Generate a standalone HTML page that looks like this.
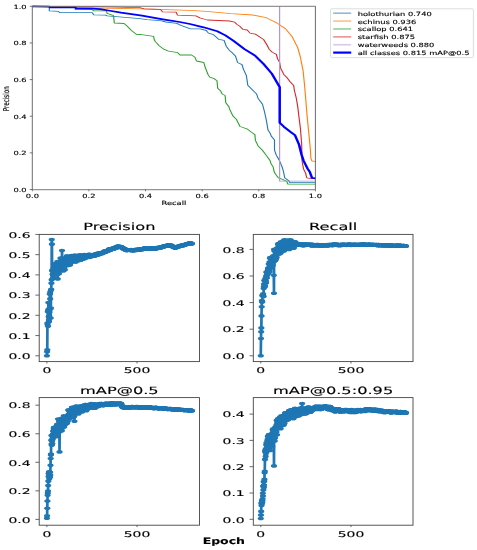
<!DOCTYPE html>
<html><head><meta charset="utf-8"><title>PR curve and training metrics</title>
<style>
html,body{margin:0;padding:0;background:#fff;}
body{width:477px;height:550px;overflow:hidden;}
svg{display:block;} text{text-rendering:geometricPrecision;}
</style></head>
<body>
<svg width="477" height="550" viewBox="0 0 477 550">
<defs><marker id="dot" markerUnits="userSpaceOnUse" markerWidth="40" markerHeight="40" refX="20" refY="20" viewBox="0 0 40 40" overflow="visible"><ellipse cx="20" cy="20" rx="6.46" ry="7.06" fill="#1f77b4"/></marker></defs>
<rect width="477" height="550" fill="#fff"/>
<g fill="none" stroke-linejoin="round" stroke-linecap="butt" transform="scale(1,0.7)">
<polyline points="32.30,9.00 49.30,9.57 49.30,15.57 58.50,16.29 59.40,18.00 92.10,18.00 93.80,21.14 105.50,21.57 107.20,22.71 140.00,26.57 146.80,28.14 160.40,29.57 165.90,31.43 176.80,33.43 180.90,36.29 190.40,41.14 200.00,41.29 206.30,43.57 208.40,47.29 213.60,49.57 218.90,56.29 224.10,57.71 226.20,66.00 229.40,72.00 231.70,74.57 235.40,79.86 237.60,89.29 242.00,92.43 243.40,98.71 246.40,108.14 247.80,121.71 250.80,126.00 256.60,134.29 258.10,140.57 262.50,149.00 264.50,159.71 266.30,171.43 268.00,185.71 270.10,190.14 271.40,194.71 274.50,200.00 274.50,214.29 276.30,221.71 279.40,229.29 282.10,238.29 283.60,245.71 284.70,254.00 288.90,258.43 289.90,260.71 315.40,261.00" stroke="#1f77b4" stroke-width="1.15"/>
<polyline points="32.30,9.00 100.00,11.43 142.00,12.57 190.00,14.86 206.40,16.29 230.90,19.43 252.70,21.43 266.30,25.29 277.20,33.14 285.40,40.86 292.20,52.57 297.70,68.14 300.40,81.71 303.10,101.29 304.50,120.71 305.80,142.86 307.20,167.57 308.60,187.00 309.90,206.43 310.40,214.29 310.90,226.29 311.90,230.00 315.40,230.43" stroke="#ff7f0e" stroke-width="1.15"/>
<polyline points="32.30,9.00 75.30,9.57 75.30,13.86 92.10,13.86 93.80,15.57 106.30,15.57 107.20,19.14 113.60,22.43 114.30,32.86 124.10,33.57 127.30,37.43 131.40,43.43 136.70,49.43 140.00,49.00 153.60,51.86 154.30,57.14 155.60,59.86 159.20,65.43 163.80,70.29 168.50,73.00 177.70,75.29 180.00,78.57 191.50,78.57 195.00,81.86 196.50,87.14 203.80,89.29 205.30,96.57 208.20,107.00 209.70,110.14 214.10,112.29 217.00,115.43 217.70,126.00 220.70,130.14 222.20,134.29 225.10,136.43 225.80,146.86 228.80,152.14 229.60,156.00 233.00,165.86 236.50,170.86 240.00,180.71 246.90,184.00 251.50,189.00 254.90,192.29 255.40,200.57 258.10,208.43 262.20,214.29 266.30,222.00 270.00,229.29 271.00,233.71 273.10,238.29 274.20,245.71 276.30,250.29 278.40,254.00 282.60,256.29 286.80,259.14 287.80,263.00 315.40,263.00" stroke="#2ca02c" stroke-width="1.15"/>
<polyline points="32.30,9.14 100.00,9.43 127.30,10.43 140.00,11.00 144.10,12.57 160.40,13.43 162.50,16.86 176.10,17.29 177.50,21.71 195.90,22.71 199.90,25.57 207.30,28.57 229.40,30.00 234.60,31.57 236.70,34.57 239.80,37.57 243.00,42.00 247.20,42.86 250.00,47.29 255.40,48.71 263.60,56.43 267.00,64.29 269.10,70.29 272.30,74.71 276.40,77.71 277.50,83.71 279.60,89.00 280.60,97.29 283.80,106.29 286.90,110.71 290.10,116.71 293.70,122.00 294.30,128.57 296.30,140.29 297.70,152.00 299.00,167.57 300.40,183.14 301.70,206.43 302.00,229.29 303.50,241.29 305.60,247.29 306.70,254.00 309.80,254.71 315.40,254.71" stroke="#d62728" stroke-width="1.15"/>
<polyline points="279.60,9.00 279.60,258.86 315.40,258.86" stroke="#b295d6" stroke-width="1.2"/>
<polyline points="32.30,9.00 49.30,9.29 50.10,10.71 75.30,10.71 76.10,12.00 92.10,12.43 100.00,13.14 108.40,15.00 121.00,18.00 142.00,22.43 162.90,27.57 179.70,31.43 190.00,34.29 203.60,39.00 217.30,44.71 225.40,50.57 233.60,58.43 244.50,70.14 255.40,79.86 263.60,91.43 271.80,105.14 279.70,124.57 279.70,175.29 284.00,181.14 290.80,188.86 294.90,192.86 299.00,206.43 300.40,214.29 301.40,220.29 303.50,229.29 305.60,235.29 307.70,241.29 309.80,245.71 311.40,251.71 311.90,254.00 315.40,254.71" stroke="#0000ff" stroke-width="2.5"/>
</g>
<path d="M32.3,6.3V189.5M315.4,6.3V189.5" fill="none" stroke="#505050" stroke-width="0.85"/>
<path d="M31.9,6.3H315.79999999999995" fill="none" stroke="#7a7a7a" stroke-width="1.0"/>
<path d="M31.9,189.7H315.79999999999995" fill="none" stroke="#959595" stroke-width="1.2"/>
<path d="M29.70,189.50H32.3M32.30,189.5V191.30M29.70,152.86H32.3M88.92,189.5V191.30M29.70,116.22H32.3M145.54,189.5V191.30M29.70,79.58H32.3M202.16,189.5V191.30M29.70,42.94H32.3M258.78,189.5V191.30M29.70,6.30H32.3M315.40,189.5V191.30" stroke="#444" stroke-width="0.7" fill="none"/>
<g font-family="'DejaVu Sans','Liberation Sans',sans-serif">
<text transform="translate(26.60,191.90) scale(1.460,1)" font-size="5.7" text-anchor="end" fill="#000" stroke="#000" stroke-width="0.12">0.0</text>
<text transform="translate(32.30,197.60) scale(1.460,1)" font-size="5.7" text-anchor="middle" fill="#000" stroke="#000" stroke-width="0.12">0.0</text>
<text transform="translate(26.60,155.26) scale(1.460,1)" font-size="5.7" text-anchor="end" fill="#000" stroke="#000" stroke-width="0.12">0.2</text>
<text transform="translate(88.92,197.60) scale(1.460,1)" font-size="5.7" text-anchor="middle" fill="#000" stroke="#000" stroke-width="0.12">0.2</text>
<text transform="translate(26.60,118.62) scale(1.460,1)" font-size="5.7" text-anchor="end" fill="#000" stroke="#000" stroke-width="0.12">0.4</text>
<text transform="translate(145.54,197.60) scale(1.460,1)" font-size="5.7" text-anchor="middle" fill="#000" stroke="#000" stroke-width="0.12">0.4</text>
<text transform="translate(26.60,81.98) scale(1.460,1)" font-size="5.7" text-anchor="end" fill="#000" stroke="#000" stroke-width="0.12">0.6</text>
<text transform="translate(202.16,197.60) scale(1.460,1)" font-size="5.7" text-anchor="middle" fill="#000" stroke="#000" stroke-width="0.12">0.6</text>
<text transform="translate(26.60,45.34) scale(1.460,1)" font-size="5.7" text-anchor="end" fill="#000" stroke="#000" stroke-width="0.12">0.8</text>
<text transform="translate(258.78,197.60) scale(1.460,1)" font-size="5.7" text-anchor="middle" fill="#000" stroke="#000" stroke-width="0.12">0.8</text>
<text transform="translate(26.60,8.70) scale(1.460,1)" font-size="5.7" text-anchor="end" fill="#000" stroke="#000" stroke-width="0.12">1.0</text>
<text transform="translate(315.40,197.60) scale(1.460,1)" font-size="5.7" text-anchor="middle" fill="#000" stroke="#000" stroke-width="0.12">1.0</text>
<text transform="translate(173.90,204.60) scale(1.460,1)" font-size="5.7" text-anchor="middle" fill="#000" stroke="#000" stroke-width="0.12">Recall</text>
<text transform="translate(9.40,98.70) scale(1.460,1) rotate(-90)" font-size="5.6" text-anchor="middle" fill="#000" stroke="#000" stroke-width="0.12">Precision</text>
</g>
<rect x="330.5" y="8.8" width="142.90" height="48.80" rx="1.2" fill="#fff" stroke="#d0d0d0" stroke-width="0.7"/>
<g font-family="'DejaVu Sans','Liberation Sans',sans-serif">
<path d="M333.2,13.20H351.2" stroke="#1f77b4" stroke-width="1.6" fill="none" stroke-opacity="0.5"/>
<text transform="translate(357.70,15.70) scale(1.460,1)" font-size="5.7" text-anchor="start" fill="#000" stroke="#000" stroke-width="0.12">holothurian 0.740</text>
<path d="M333.2,21.08H351.2" stroke="#ff7f0e" stroke-width="1.6" fill="none" stroke-opacity="0.5"/>
<text transform="translate(357.70,23.58) scale(1.460,1)" font-size="5.7" text-anchor="start" fill="#000" stroke="#000" stroke-width="0.12">echinus 0.936</text>
<path d="M333.2,28.96H351.2" stroke="#2ca02c" stroke-width="1.6" fill="none" stroke-opacity="0.5"/>
<text transform="translate(357.70,31.46) scale(1.460,1)" font-size="5.7" text-anchor="start" fill="#000" stroke="#000" stroke-width="0.12">scallop 0.641</text>
<path d="M333.2,36.84H351.2" stroke="#d62728" stroke-width="1.6" fill="none" stroke-opacity="0.5"/>
<text transform="translate(357.70,39.34) scale(1.460,1)" font-size="5.7" text-anchor="start" fill="#000" stroke="#000" stroke-width="0.12">starfish 0.875</text>
<path d="M333.2,44.72H351.2" stroke="#b295d6" stroke-width="1.6" fill="none" stroke-opacity="0.5"/>
<text transform="translate(357.70,47.22) scale(1.460,1)" font-size="5.7" text-anchor="start" fill="#000" stroke="#000" stroke-width="0.12">waterweeds 0.880</text>
<path d="M333.2,52.60H351.2" stroke="#0000ff" stroke-width="2.2" fill="none"/>
<text transform="translate(357.70,55.10) scale(1.460,1)" font-size="5.7" text-anchor="start" fill="#000" stroke="#000" stroke-width="0.12">all classes 0.815 mAP@0.5</text>
</g>
<g transform="scale(0.48,0.255)">
<polyline points="97.7,1395.3 98.1,1379.4 98.5,1371.5 98.8,1267.2 99.2,1273.4 99.6,1222.5 100.0,1279.4 100.3,1216.9 100.7,1186.2 101.1,1213.2 101.5,1241.8 101.8,1254.8 102.2,1261.4 102.6,1240.5 103.0,1223.8 103.3,1210.1 103.7,1152.8 104.1,1152.9 104.5,1172.1 104.8,1144.8 105.2,1211.6 105.6,1247.4 106.0,1208.3 106.3,1137.0 106.7,1134.6 107.1,1110.4 107.5,1097.0 107.8,939.1 108.2,957.4 108.6,1061.7 109.0,1059.4 109.3,1075.3 109.7,1092.9 110.1,1092.2 110.5,1061.9 110.8,1078.0 111.2,1074.4 111.6,1090.6 112.0,1053.7 112.3,1076.3 112.7,1078.5 113.1,1044.1 113.5,1051.3 113.9,1034.8 114.2,1039.8 114.6,1035.7 115.0,1070.7 115.4,1059.0 115.7,1056.0 116.1,1034.1 116.5,1053.8 116.9,1048.1 117.2,1075.8 117.6,1068.2 118.0,1068.5 118.4,1078.0 118.7,1044.5 119.1,1055.2 119.5,1026.0 119.9,1035.7 120.2,1093.8 120.6,1037.4 121.0,1034.6 121.4,1061.9 121.7,1056.7 122.1,1065.2 122.5,1059.4 122.9,1073.4 123.2,1031.4 123.6,1055.1 124.0,1039.5 124.4,1053.0 124.7,1027.2 125.1,1028.0 125.5,1056.5 125.9,1029.3 126.2,1012.9 126.6,1012.3 127.0,1023.9 127.4,1052.3 127.7,1060.9 128.1,1025.0 128.5,1030.3 128.9,1051.6 129.2,982.8 129.6,1023.8 130.0,1027.7 130.4,1039.0 130.7,1041.4 131.1,1050.9 131.5,1062.8 131.9,1026.6 132.2,1032.2 132.6,1030.0 133.0,1040.4 133.4,1022.2 133.7,1051.9 134.1,1045.6 134.5,1058.1 134.9,1057.6 135.2,1018.6 135.6,1017.3 136.0,1028.0 136.4,1027.3 136.8,1010.0 137.1,1028.5 137.5,1023.9 137.9,1017.6 138.3,1030.3 138.6,1027.6 139.0,1015.0 139.4,1003.5 139.8,1033.0 140.1,1009.6 140.5,1041.3 140.9,1020.8 141.3,1010.1 141.6,1034.7 142.0,1032.2 142.4,1014.3 142.8,1040.5 143.1,1025.3 143.5,1012.4 143.9,1018.6 144.3,1012.4 144.6,1029.5 145.0,1037.2 145.4,1033.5 145.8,1038.9 146.1,1034.4 146.5,1009.9 146.9,1014.1 147.3,1024.1 147.6,1030.3 148.0,1008.3 148.4,1017.5 148.8,1002.3 149.1,1012.3 149.5,1015.9 149.9,1004.6 150.3,1005.3 150.6,1010.7 151.0,1017.7 151.4,1006.0 151.8,1015.9 152.1,1003.9 152.5,1025.1 152.9,1022.3 153.3,1018.4 153.6,1004.1 154.0,1018.6 154.4,1008.3 154.8,1007.9 155.1,1006.5 155.5,1008.2 155.9,1000.6 156.3,1013.1 156.6,1016.5 157.0,1022.6 157.4,1027.5 157.8,1026.4 158.2,1008.5 158.5,1003.2 158.9,1018.0 159.3,1012.3 159.7,1012.7 160.0,1010.2 160.4,1007.8 160.8,1014.3 161.2,1002.8 161.5,1008.8 161.9,1007.7 162.3,1007.0 162.7,1016.1 163.0,1022.1 163.4,1017.1 163.8,1007.9 164.2,1003.2 164.5,1003.0 164.9,1015.1 165.3,1004.0 165.7,1001.8 166.0,999.5 166.4,1005.2 166.8,1000.0 167.2,1014.4 167.5,1019.8 167.9,1019.6 168.3,1019.1 168.7,1017.7 169.0,1018.1 169.4,1011.3 169.8,1018.0 170.2,1010.7 170.5,1015.2 170.9,1007.9 171.3,1016.4 171.7,1014.6 172.0,1003.1 172.4,1005.3 172.8,1001.5 173.2,1002.5 173.5,1003.6 173.9,1010.9 174.3,1007.4 174.7,1014.6 175.0,1005.1 175.4,998.9 175.8,998.3 176.2,1010.1 176.5,1010.3 176.9,1010.6 177.3,1013.7 177.7,1007.2 178.0,1002.0 178.4,1007.0 178.8,1000.9 179.2,999.5 179.5,1008.2 179.9,1002.7 180.3,998.9 180.7,1006.7 181.1,1004.6 181.4,1002.8 181.8,1002.4 182.2,1008.9 182.6,1004.1 182.9,1002.5 183.3,999.4 183.7,998.4 184.1,1003.8 184.4,1001.0 184.8,998.2 185.2,997.1 185.6,1004.6 185.9,1009.2 186.3,1003.7 186.7,1006.5 187.1,1003.5 187.4,998.0 187.8,1002.0 188.2,1004.9 188.6,1003.7 188.9,1001.0 189.3,1005.8 189.7,1004.7 190.1,1006.7 190.4,1001.8 190.8,998.1 191.2,1001.2 191.6,1002.4 191.9,1001.1 192.3,1003.8 192.7,1004.4 193.1,1003.7 193.4,1002.1 193.8,1005.0 194.2,999.6 194.6,999.1 194.9,1001.4 195.3,1004.3 195.7,999.0 196.1,1002.6 196.4,1003.9 196.8,1004.1 197.2,1003.9 197.6,997.6 197.9,1000.3 198.3,1000.9 198.7,996.5 199.1,996.6 199.4,1000.1 199.8,999.4 200.2,995.3 200.6,997.8 200.9,995.9 201.3,1000.0 201.7,996.6 202.1,994.8 202.4,993.6 202.8,994.2 203.2,996.7 203.6,999.9 204.0,997.7 204.3,995.0 204.7,997.9 205.1,998.4 205.5,996.6 205.8,994.4 206.2,992.4 206.6,996.8 207.0,998.0 207.3,994.3 207.7,993.8 208.1,993.1 208.5,991.4 208.8,991.3 209.2,991.2 209.6,991.3 210.0,993.7 210.3,993.1 210.7,995.4 211.1,992.9 211.5,991.7 211.8,991.2 212.2,992.4 212.6,993.1 213.0,992.9 213.3,994.9 213.7,990.7 214.1,990.7 214.5,991.3 214.8,990.5 215.2,988.9 215.6,990.1 216.0,987.7 216.3,986.1 216.7,988.3 217.1,990.4 217.5,987.5 217.8,984.8 218.2,988.3 218.6,986.3 219.0,984.7 219.3,983.5 219.7,987.1 220.1,988.6 220.5,983.9 220.8,986.8 221.2,987.4 221.6,985.2 222.0,984.8 222.3,982.7 222.7,984.9 223.1,981.5 223.5,983.8 223.8,981.5 224.2,984.3 224.6,982.9 225.0,984.6 225.4,983.5 225.7,982.9 226.1,980.2 226.5,980.4 226.9,982.5 227.2,977.9 227.6,976.5 228.0,976.0 228.4,978.7 228.7,978.9 229.1,979.8 229.5,980.6 229.9,980.6 230.2,978.9 230.6,979.9 231.0,979.9 231.4,976.0 231.7,976.4 232.1,978.1 232.5,976.0 232.9,977.3 233.2,976.2 233.6,977.1 234.0,976.0 234.4,974.8 234.7,974.8 235.1,975.4 235.5,973.4 235.9,972.0 236.2,975.1 236.6,976.5 237.0,977.0 237.4,972.4 237.7,970.5 238.1,973.5 238.5,970.5 238.9,973.3 239.2,972.6 239.6,972.2 240.0,969.6 240.4,973.2 240.7,972.9 241.1,971.1 241.5,973.1 241.9,972.8 242.2,971.3 242.6,968.3 243.0,967.6 243.4,966.8 243.7,966.7 244.1,966.7 244.5,965.9 244.9,966.2 245.2,965.9 245.6,967.9 246.0,969.3 246.4,966.6 246.7,968.4 247.1,965.5 247.5,966.1 247.9,967.9 248.3,965.6 248.6,968.8 249.0,968.4 249.4,970.5 249.8,967.0 250.1,967.7 250.5,966.9 250.9,969.4 251.3,967.8 251.6,967.8 252.0,968.3 252.4,967.0 252.8,969.3 253.1,970.5 253.5,969.8 253.9,969.0 254.3,971.5 254.6,971.0 255.0,973.4 255.4,972.8 255.8,971.6 256.1,975.0 256.5,973.2 256.9,976.3 257.3,972.9 257.6,974.3 258.0,975.4 258.4,974.4 258.8,975.3 259.1,974.8 259.5,978.1 259.9,977.2 260.3,977.1 260.6,975.3 261.0,979.4 261.4,979.1 261.8,978.3 262.1,978.6 262.5,981.4 262.9,980.1 263.3,981.6 263.6,982.6 264.0,979.8 264.4,982.3 264.8,981.8 265.1,980.2 265.5,979.7 265.9,980.3 266.3,979.3 266.6,980.6 267.0,980.3 267.4,979.3 267.8,979.5 268.1,979.8 268.5,981.1 268.9,980.9 269.3,981.6 269.6,980.1 270.0,981.3 270.4,981.4 270.8,980.0 271.2,980.7 271.5,981.8 271.9,979.8 272.3,981.2 272.7,979.5 273.0,979.1 273.4,980.6 273.8,979.9 274.2,982.9 274.5,982.4 274.9,979.9 275.3,980.3 275.7,980.5 276.0,980.1 276.4,979.9 276.8,980.3 277.2,981.2 277.5,982.7 277.9,982.8 278.3,982.8 278.7,982.2 279.0,979.2 279.4,981.1 279.8,981.4 280.2,981.9 280.5,981.0 280.9,978.8 281.3,978.3 281.7,980.3 282.0,981.6 282.4,979.1 282.8,979.9 283.2,979.3 283.5,981.9 283.9,979.1 284.3,980.5 284.7,980.2 285.0,981.4 285.4,980.8 285.8,978.5 286.2,977.6 286.5,978.8 286.9,977.9 287.3,978.9 287.7,979.6 288.0,979.0 288.4,980.4 288.8,980.3 289.2,978.4 289.5,977.3 289.9,980.1 290.3,978.0 290.7,976.7 291.0,977.9 291.4,980.0 291.8,978.0 292.2,979.1 292.5,977.7 292.9,978.2 293.3,977.2 293.7,978.4 294.1,977.8 294.4,977.3 294.8,976.5 295.2,978.1 295.6,975.2 295.9,977.0 296.3,977.6 296.7,978.0 297.1,978.8 297.4,977.6 297.8,975.4 298.2,974.7 298.6,976.7 298.9,977.7 299.3,977.2 299.7,974.9 300.1,975.1 300.4,973.2 300.8,973.6 301.2,973.8 301.6,973.2 301.9,972.9 302.3,974.5 302.7,975.5 303.1,975.0 303.4,974.5 303.8,975.7 304.2,975.0 304.6,973.8 304.9,975.6 305.3,976.3 305.7,976.4 306.1,976.0 306.4,972.9 306.8,975.7 307.2,976.2 307.6,976.5 307.9,975.3 308.3,976.6 308.7,975.5 309.1,976.2 309.4,976.1 309.8,973.8 310.2,975.5 310.6,974.3 310.9,974.8 311.3,974.9 311.7,973.3 312.1,975.4 312.4,973.1 312.8,972.2 313.2,972.9 313.6,975.8 313.9,974.4 314.3,974.1 314.7,973.2 315.1,975.3 315.4,973.0 315.8,972.4 316.2,975.4 316.6,975.7 317.0,977.0 317.3,974.3 317.7,972.8 318.1,972.5 318.5,973.2 318.8,973.5 319.2,973.5 319.6,974.0 320.0,972.5 320.3,973.3 320.7,974.6 321.1,974.4 321.5,976.2 321.8,974.0 322.2,973.2 322.6,973.9 323.0,972.4 323.3,972.1 323.7,973.6 324.1,975.2 324.5,975.5 324.8,975.4 325.2,974.8 325.6,973.9 326.0,971.5 326.3,973.1 326.7,971.2 327.1,971.2 327.5,970.5 327.8,971.9 328.2,974.1 328.6,971.7 329.0,972.8 329.3,973.7 329.7,971.3 330.1,970.7 330.5,972.3 330.8,972.7 331.2,970.1 331.6,971.6 332.0,970.5 332.3,972.2 332.7,970.1 333.1,972.0 333.5,971.1 333.8,972.5 334.2,971.0 334.6,969.2 335.0,971.4 335.3,971.4 335.7,969.3 336.1,969.0 336.5,969.9 336.8,968.8 337.2,969.0 337.6,967.3 338.0,968.7 338.4,967.3 338.7,967.1 339.1,966.5 339.5,967.5 339.9,966.4 340.2,966.0 340.6,966.8 341.0,968.4 341.4,965.3 341.7,964.9 342.1,966.6 342.5,965.1 342.9,966.1 343.2,965.6 343.6,963.8 344.0,964.5 344.4,965.2 344.7,965.3 345.1,966.1 345.5,965.7 345.9,965.2 346.2,965.2 346.6,965.2 347.0,964.0 347.4,964.3 347.7,962.5 348.1,961.0 348.5,962.8 348.9,962.3 349.2,962.4 349.6,963.9 350.0,964.3 350.4,961.6 350.7,962.0 351.1,960.9 351.5,963.1 351.9,962.0 352.2,960.6 352.6,959.9 353.0,962.8 353.4,962.0 353.7,962.2 354.1,960.8 354.5,962.7 354.9,962.7 355.2,961.2 355.6,962.0 356.0,962.6 356.4,961.3 356.7,963.3 357.1,965.4 357.5,965.2 357.9,966.2 358.2,966.8 358.6,965.9 359.0,964.3 359.4,965.3 359.7,965.6 360.1,967.2 360.5,967.2 360.9,966.7 361.3,967.4 361.6,967.1 362.0,968.2 362.4,970.0 362.8,969.7 363.1,970.1 363.5,971.6 363.9,970.9 364.3,970.2 364.6,972.5 365.0,971.6 365.4,970.4 365.8,970.9 366.1,971.4 366.5,971.0 366.9,970.2 367.3,969.2 367.6,969.0 368.0,970.3 368.4,968.3 368.8,966.9 369.1,969.0 369.5,969.2 369.9,969.4 370.3,967.0 370.6,965.7 371.0,967.9 371.4,967.6 371.8,967.8 372.1,966.8 372.5,964.7 372.9,966.6 373.3,966.8 373.6,965.7 374.0,965.0 374.4,963.8 374.8,964.2 375.1,965.3 375.5,964.9 375.9,962.6 376.3,962.3 376.6,964.2 377.0,962.6 377.4,963.5 377.8,962.2 378.1,964.0 378.5,961.9 378.9,963.2 379.3,962.7 379.6,961.7 380.0,961.8 380.4,962.8 380.8,963.1 381.1,962.7 381.5,963.0 381.9,962.7 382.3,962.6 382.6,961.5 383.0,961.3 383.4,960.4 383.8,960.9 384.2,961.7 384.5,961.1 384.9,959.3 385.3,960.1 385.7,959.9 386.0,958.6 386.4,959.0 386.8,957.6 387.2,956.8 387.5,958.2 387.9,957.3 388.3,958.3 388.7,959.0 389.0,958.2 389.4,957.2 389.8,955.7 390.2,957.4 390.5,956.2 390.9,956.3 391.3,957.3 391.7,955.0 392.0,954.8 392.4,956.3 392.8,954.4 393.2,955.9 393.5,956.5 393.9,955.8 394.3,953.6 394.7,955.3 395.0,953.2 395.4,953.2 395.8,954.6 396.2,953.6 396.5,953.9 396.9,953.9 397.3,953.6 397.7,953.9 398.0,953.4 398.4,955.6 398.8,954.8 399.2,955.9 399.5,955.4 399.9,955.1" fill="none" stroke="#1f77b4" stroke-width="5.63" stroke-linejoin="round" marker-start="url(#dot)" marker-mid="url(#dot)" marker-end="url(#dot)"/>
</g>
<rect x="39.2" y="234.4" width="160.30" height="127.20" fill="none" stroke="#444" stroke-width="0.9"/>
<path d="M35.40,355.80H39.2M35.40,335.57H39.2M35.40,315.34H39.2M35.40,295.11H39.2M35.40,274.88H39.2M35.40,254.65H39.2M35.40,234.42H39.2M46.90,361.6V363.50M137.00,361.6V363.50" stroke="#444" stroke-width="0.8" fill="none"/>
<g font-family="'DejaVu Sans','Liberation Sans',sans-serif">
<text transform="translate(30.60,359.05) scale(1.760,1)" font-size="7.9" text-anchor="end" fill="#000" stroke="#000" stroke-width="0.12">0.0</text>
<text transform="translate(30.60,338.82) scale(1.760,1)" font-size="7.9" text-anchor="end" fill="#000" stroke="#000" stroke-width="0.12">0.1</text>
<text transform="translate(30.60,318.59) scale(1.760,1)" font-size="7.9" text-anchor="end" fill="#000" stroke="#000" stroke-width="0.12">0.2</text>
<text transform="translate(30.60,298.36) scale(1.760,1)" font-size="7.9" text-anchor="end" fill="#000" stroke="#000" stroke-width="0.12">0.3</text>
<text transform="translate(30.60,278.13) scale(1.760,1)" font-size="7.9" text-anchor="end" fill="#000" stroke="#000" stroke-width="0.12">0.4</text>
<text transform="translate(30.60,257.90) scale(1.760,1)" font-size="7.9" text-anchor="end" fill="#000" stroke="#000" stroke-width="0.12">0.5</text>
<text transform="translate(30.60,237.67) scale(1.760,1)" font-size="7.9" text-anchor="end" fill="#000" stroke="#000" stroke-width="0.12">0.6</text>
<text transform="translate(46.90,373.30) scale(1.760,1)" font-size="7.9" text-anchor="middle" fill="#000" stroke="#000" stroke-width="0.12">0</text>
<text transform="translate(137.00,373.30) scale(1.760,1)" font-size="7.9" text-anchor="middle" fill="#000" stroke="#000" stroke-width="0.12">500</text>
<text transform="translate(119.35,230.30) scale(1.620,1)" font-size="10.0" text-anchor="middle" fill="#000" stroke="#000" stroke-width="0.12">Precision</text>
</g>
<g transform="scale(0.48,0.255)">
<polyline points="543.3,1395.3 543.7,1327.5 544.1,1301.4 544.5,1285.8 544.8,1238.8 545.2,1203.0 545.6,1178.5 546.0,1184.5 546.3,1183.1 546.7,1159.7 547.1,1157.7 547.5,1157.2 547.8,1157.2 548.2,1152.1 548.6,1161.3 549.0,1163.2 549.3,1131.8 549.7,1124.4 550.1,1113.5 550.5,1100.0 550.9,1119.3 551.2,1125.5 551.6,1124.0 552.0,1120.3 552.4,1095.1 552.7,1101.6 553.1,1104.8 553.5,1089.2 553.9,1102.6 554.2,1110.0 554.6,1082.7 555.0,1067.1 555.4,1081.0 555.7,1068.4 556.1,1090.3 556.5,1079.5 556.9,1066.3 557.2,1075.4 557.6,1073.5 558.0,1059.0 558.4,1053.1 558.7,1070.5 559.1,1049.9 559.5,1070.6 559.9,1035.2 560.2,1056.7 560.6,1061.7 561.0,1065.2 561.4,1027.6 561.7,1045.2 562.1,1035.9 562.5,1012.6 562.9,1009.6 563.3,1043.2 563.6,1034.7 564.0,1026.4 564.4,1017.5 564.8,1030.6 565.1,1035.3 565.5,1050.3 565.9,1048.8 566.3,1032.2 566.6,1044.5 567.0,1042.4 567.4,1034.4 567.8,1041.4 568.1,1039.9 568.5,1005.3 568.9,1011.1 569.3,1023.6 569.6,1003.6 570.0,1028.2 570.4,1079.7 570.8,1150.2 571.1,977.3 571.5,984.1 571.9,1011.9 572.3,1011.7 572.6,1022.8 573.0,1020.3 573.4,1020.6 573.8,1019.5 574.2,998.3 574.5,1012.8 574.9,1015.2 575.3,979.8 575.7,992.1 576.0,996.5 576.4,1009.4 576.8,979.9 577.2,973.2 577.5,976.1 577.9,973.2 578.3,995.8 578.7,996.5 579.0,981.1 579.4,957.9 579.8,954.7 580.2,961.2 580.5,969.1 580.9,994.4 581.3,965.1 581.7,989.6 582.0,996.1 582.4,973.8 582.8,959.5 583.2,954.8 583.5,966.8 583.9,982.9 584.3,993.5 584.7,965.2 585.1,948.0 585.4,971.0 585.8,954.5 586.2,966.5 586.6,974.5 586.9,969.9 587.3,987.4 587.7,977.1 588.1,982.3 588.4,964.4 588.8,965.2 589.2,951.4 589.6,944.9 589.9,963.9 590.3,972.7 590.7,951.4 591.1,959.0 591.4,977.0 591.8,984.1 592.2,940.5 592.6,956.8 592.9,976.8 593.3,967.9 593.7,964.5 594.1,965.5 594.4,947.4 594.8,942.8 595.2,966.8 595.6,976.3 596.0,971.0 596.3,953.9 596.7,954.4 597.1,950.9 597.5,954.8 597.8,969.0 598.2,953.7 598.6,975.1 599.0,960.2 599.3,971.4 599.7,941.5 600.1,947.5 600.5,954.5 600.8,973.3 601.2,968.4 601.6,958.8 602.0,974.7 602.3,974.6 602.7,978.7 603.1,968.1 603.5,967.6 603.8,963.4 604.2,968.3 604.6,958.8 605.0,970.2 605.3,940.5 605.7,943.6 606.1,953.6 606.5,958.8 606.8,948.7 607.2,962.1 607.6,951.8 608.0,963.3 608.4,954.8 608.7,963.0 609.1,958.1 609.5,946.6 609.9,967.8 610.2,954.0 610.6,956.3 611.0,961.9 611.4,964.6 611.7,973.5 612.1,970.5 612.5,959.6 612.9,967.5 613.2,957.6 613.6,948.8 614.0,948.1 614.4,948.9 614.7,949.7 615.1,957.1 615.5,953.0 615.9,957.3 616.2,954.0 616.6,952.7 617.0,954.2 617.4,955.6 617.7,958.6 618.1,957.4 618.5,958.7 618.9,960.5 619.3,961.1 619.6,956.6 620.0,953.9 620.4,958.6 620.8,961.4 621.1,960.8 621.5,961.5 621.9,961.5 622.3,958.7 622.6,958.7 623.0,958.8 623.4,960.4 623.8,957.9 624.1,959.5 624.5,959.5 624.9,959.1 625.3,955.9 625.6,959.2 626.0,957.3 626.4,959.5 626.8,956.3 627.1,958.6 627.5,958.7 627.9,956.3 628.3,956.8 628.6,961.0 629.0,962.4 629.4,957.2 629.8,961.6 630.2,961.6 630.5,957.2 630.9,961.7 631.3,962.6 631.7,962.6 632.0,963.0 632.4,961.3 632.8,959.6 633.2,960.8 633.5,962.6 633.9,958.8 634.3,957.4 634.7,958.4 635.0,961.5 635.4,960.2 635.8,959.2 636.2,960.0 636.5,957.7 636.9,959.7 637.3,959.8 637.7,962.2 638.0,960.5 638.4,958.6 638.8,958.1 639.2,960.7 639.5,957.4 639.9,957.8 640.3,959.7 640.7,960.5 641.1,958.7 641.4,961.5 641.8,960.0 642.2,958.9 642.6,959.7 642.9,958.0 643.3,959.6 643.7,960.3 644.1,961.6 644.4,958.6 644.8,960.8 645.2,959.6 645.6,960.7 645.9,958.3 646.3,957.7 646.7,961.9 647.1,958.5 647.4,959.3 647.8,962.5 648.2,961.5 648.6,963.5 648.9,961.7 649.3,962.9 649.7,962.4 650.1,962.6 650.4,961.1 650.8,959.4 651.2,958.2 651.6,960.8 651.9,960.6 652.3,963.5 652.7,962.7 653.1,959.5 653.5,962.5 653.8,959.9 654.2,960.0 654.6,961.8 655.0,960.2 655.3,961.9 655.7,959.7 656.1,962.8 656.5,963.8 656.8,961.2 657.2,961.6 657.6,963.3 658.0,962.2 658.3,962.8 658.7,961.9 659.1,960.6 659.5,959.5 659.8,962.9 660.2,961.8 660.6,959.5 661.0,961.0 661.3,960.2 661.7,963.1 662.1,960.6 662.5,961.0 662.8,959.7 663.2,959.7 663.6,959.4 664.0,963.0 664.4,961.4 664.7,963.2 665.1,963.6 665.5,963.5 665.9,962.2 666.2,961.6 666.6,959.9 667.0,963.6 667.4,964.2 667.7,963.7 668.1,961.3 668.5,961.7 668.9,962.0 669.2,961.0 669.6,961.1 670.0,962.8 670.4,964.5 670.7,963.4 671.1,961.0 671.5,961.4 671.9,964.1 672.2,963.3 672.6,963.3 673.0,962.4 673.4,962.0 673.7,960.1 674.1,962.2 674.5,962.8 674.9,962.0 675.3,960.5 675.6,960.7 676.0,961.8 676.4,960.7 676.8,961.8 677.1,960.0 677.5,962.4 677.9,964.0 678.3,961.4 678.6,962.8 679.0,960.8 679.4,961.1 679.8,961.6 680.1,963.7 680.5,961.3 680.9,963.6 681.3,960.4 681.6,959.5 682.0,961.7 682.4,963.4 682.8,960.6 683.1,961.2 683.5,963.1 683.9,962.1 684.3,962.8 684.6,962.3 685.0,961.1 685.4,959.3 685.8,959.1 686.2,961.8 686.5,961.5 686.9,961.3 687.3,958.9 687.7,962.0 688.0,961.3 688.4,959.2 688.8,960.6 689.2,961.7 689.5,960.9 689.9,961.5 690.3,959.1 690.7,961.8 691.0,962.3 691.4,962.9 691.8,960.5 692.2,961.3 692.5,958.9 692.9,958.0 693.3,957.9 693.7,960.2 694.0,962.5 694.4,961.7 694.8,958.8 695.2,958.5 695.5,961.5 695.9,959.9 696.3,958.3 696.7,957.9 697.0,958.2 697.4,957.9 697.8,957.9 698.2,959.9 698.6,961.9 698.9,960.0 699.3,961.7 699.7,961.4 700.1,958.6 700.4,959.4 700.8,959.8 701.2,958.2 701.6,960.4 701.9,958.2 702.3,958.0 702.7,959.8 703.1,960.9 703.4,962.1 703.8,959.2 704.2,961.2 704.6,962.6 704.9,959.6 705.3,959.6 705.7,959.3 706.1,958.9 706.4,961.7 706.8,962.6 707.2,961.2 707.6,962.6 707.9,961.2 708.3,959.7 708.7,959.4 709.1,959.4 709.5,961.9 709.8,962.1 710.2,959.3 710.6,961.5 711.0,960.6 711.3,962.3 711.7,959.3 712.1,961.3 712.5,961.1 712.8,960.4 713.2,959.4 713.6,958.1 714.0,958.4 714.3,960.2 714.7,962.0 715.1,960.1 715.5,958.3 715.8,961.5 716.2,959.6 716.6,961.4 717.0,960.9 717.3,960.4 717.7,959.9 718.1,958.1 718.5,958.6 718.8,960.0 719.2,959.3 719.6,960.0 720.0,960.5 720.4,960.9 720.7,960.5 721.1,961.2 721.5,961.6 721.9,962.2 722.2,961.2 722.6,961.4 723.0,959.3 723.4,958.3 723.7,960.0 724.1,959.6 724.5,958.2 724.9,959.9 725.2,959.8 725.6,960.2 726.0,959.5 726.4,957.9 726.7,960.7 727.1,958.4 727.5,958.7 727.9,958.3 728.2,958.8 728.6,958.0 729.0,959.9 729.4,959.1 729.7,960.6 730.1,960.2 730.5,959.3 730.9,960.9 731.2,962.1 731.6,959.6 732.0,958.5 732.4,958.7 732.8,960.1 733.1,959.3 733.5,961.3 733.9,959.8 734.3,959.5 734.6,959.2 735.0,959.8 735.4,960.9 735.8,959.3 736.1,959.7 736.5,958.8 736.9,959.9 737.3,961.4 737.6,960.3 738.0,959.5 738.4,957.9 738.8,957.6 739.1,960.6 739.5,959.0 739.9,960.3 740.3,959.2 740.6,959.9 741.0,960.5 741.4,960.0 741.8,959.7 742.1,958.9 742.5,958.8 742.9,958.6 743.3,959.6 743.7,958.9 744.0,959.9 744.4,959.3 744.8,959.6 745.2,959.3 745.5,961.3 745.9,960.2 746.3,960.9 746.7,960.5 747.0,961.5 747.4,959.7 747.8,958.0 748.2,959.5 748.5,961.0 748.9,959.6 749.3,960.9 749.7,958.5 750.0,960.5 750.4,960.4 750.8,959.8 751.2,961.0 751.5,960.7 751.9,960.8 752.3,959.1 752.7,957.4 753.0,959.1 753.4,958.1 753.8,960.2 754.2,959.4 754.6,959.6 754.9,960.2 755.3,958.4 755.7,958.0 756.1,960.2 756.4,960.4 756.8,958.6 757.2,957.3 757.6,958.1 757.9,957.5 758.3,957.4 758.7,957.5 759.1,958.1 759.4,960.0 759.8,960.2 760.2,959.3 760.6,957.9 760.9,959.6 761.3,960.0 761.7,961.5 762.1,959.6 762.4,959.8 762.8,958.6 763.2,960.2 763.6,959.3 763.9,958.9 764.3,959.5 764.7,960.8 765.1,960.5 765.5,959.2 765.8,960.7 766.2,961.7 766.6,960.7 767.0,961.2 767.3,959.3 767.7,958.5 768.1,957.9 768.5,957.9 768.8,958.6 769.2,960.6 769.6,959.1 770.0,958.8 770.3,958.7 770.7,958.8 771.1,958.4 771.5,960.1 771.8,959.5 772.2,959.8 772.6,960.6 773.0,961.0 773.3,961.8 773.7,960.9 774.1,961.0 774.5,960.8 774.8,959.2 775.2,959.2 775.6,959.2 776.0,958.4 776.4,960.5 776.7,960.4 777.1,961.9 777.5,961.4 777.9,959.2 778.2,961.4 778.6,960.0 779.0,959.0 779.4,959.9 779.7,959.2 780.1,960.2 780.5,961.0 780.9,960.7 781.2,961.7 781.6,961.8 782.0,961.8 782.4,959.4 782.7,960.8 783.1,961.7 783.5,959.6 783.9,961.6 784.2,959.5 784.6,959.0 785.0,959.6 785.4,960.6 785.7,961.8 786.1,962.6 786.5,962.8 786.9,962.3 787.2,961.8 787.6,959.8 788.0,960.4 788.4,959.1 788.8,959.5 789.1,961.6 789.5,961.1 789.9,962.3 790.3,963.0 790.6,960.4 791.0,961.4 791.4,962.3 791.8,963.0 792.1,961.4 792.5,961.4 792.9,963.0 793.3,961.2 793.6,962.1 794.0,960.7 794.4,961.1 794.8,961.1 795.1,961.4 795.5,960.8 795.9,959.6 796.3,959.7 796.6,962.2 797.0,961.8 797.4,962.5 797.8,963.3 798.1,963.3 798.5,963.1 798.9,960.7 799.3,960.4 799.7,960.0 800.0,960.3 800.4,961.8 800.8,962.1 801.2,962.1 801.5,962.6 801.9,962.4 802.3,961.1 802.7,963.0 803.0,963.0 803.4,962.4 803.8,961.5 804.2,961.3 804.5,960.9 804.9,962.9 805.3,963.4 805.7,963.2 806.0,963.2 806.4,961.7 806.8,960.3 807.2,960.8 807.5,963.1 807.9,963.2 808.3,961.6 808.7,960.6 809.0,961.3 809.4,962.3 809.8,962.8 810.2,962.0 810.6,961.0 810.9,962.3 811.3,963.3 811.7,964.1 812.1,964.1 812.4,962.1 812.8,961.9 813.2,960.7 813.6,963.1 813.9,963.2 814.3,961.9 814.7,961.8 815.1,963.6 815.4,963.3 815.8,962.5 816.2,962.0 816.6,962.6 816.9,963.6 817.3,961.6 817.7,962.4 818.1,961.9 818.4,962.3 818.8,964.0 819.2,964.1 819.6,964.6 819.9,964.6 820.3,964.5 820.7,963.8 821.1,963.9 821.5,963.8 821.8,962.3 822.2,964.2 822.6,964.7 823.0,962.8 823.3,962.9 823.7,963.2 824.1,963.9 824.5,963.3 824.8,964.1 825.2,962.5 825.6,961.9 826.0,963.3 826.3,964.7 826.7,962.7 827.1,963.7 827.5,963.0 827.8,962.1 828.2,962.0 828.6,961.8 829.0,962.8 829.3,962.2 829.7,963.1 830.1,964.1 830.5,963.8 830.8,964.2 831.2,963.0 831.6,962.4 832.0,964.2 832.3,964.9 832.7,964.5 833.1,964.1 833.5,962.5 833.9,962.1 834.2,962.1 834.6,962.3 835.0,962.7 835.4,964.1 835.7,964.3 836.1,965.5 836.5,963.6 836.9,964.5 837.2,965.4 837.6,965.1 838.0,965.0 838.4,963.7 838.7,965.4 839.1,965.4 839.5,963.5 839.9,962.8 840.2,963.2 840.6,963.6 841.0,964.8 841.4,963.3 841.7,963.1 842.1,963.8 842.5,965.1 842.9,965.4 843.2,965.1 843.6,965.2 844.0,965.9 844.4,965.3 844.8,964.9 845.1,965.3 845.5,965.1 845.9,965.2" fill="none" stroke="#1f77b4" stroke-width="5.63" stroke-linejoin="round" marker-start="url(#dot)" marker-mid="url(#dot)" marker-end="url(#dot)"/>
</g>
<rect x="253.3" y="234.4" width="159.70" height="127.20" fill="none" stroke="#444" stroke-width="0.9"/>
<path d="M249.50,355.80H253.3M249.50,329.20H253.3M249.50,302.60H253.3M249.50,276.00H253.3M249.50,249.40H253.3M260.80,361.6V363.50M351.00,361.6V363.50" stroke="#444" stroke-width="0.8" fill="none"/>
<g font-family="'DejaVu Sans','Liberation Sans',sans-serif">
<text transform="translate(244.70,359.05) scale(1.760,1)" font-size="7.9" text-anchor="end" fill="#000" stroke="#000" stroke-width="0.12">0.0</text>
<text transform="translate(244.70,332.45) scale(1.760,1)" font-size="7.9" text-anchor="end" fill="#000" stroke="#000" stroke-width="0.12">0.2</text>
<text transform="translate(244.70,305.85) scale(1.760,1)" font-size="7.9" text-anchor="end" fill="#000" stroke="#000" stroke-width="0.12">0.4</text>
<text transform="translate(244.70,279.25) scale(1.760,1)" font-size="7.9" text-anchor="end" fill="#000" stroke="#000" stroke-width="0.12">0.6</text>
<text transform="translate(244.70,252.65) scale(1.760,1)" font-size="7.9" text-anchor="end" fill="#000" stroke="#000" stroke-width="0.12">0.8</text>
<text transform="translate(260.80,373.30) scale(1.760,1)" font-size="7.9" text-anchor="middle" fill="#000" stroke="#000" stroke-width="0.12">0</text>
<text transform="translate(351.00,373.30) scale(1.760,1)" font-size="7.9" text-anchor="middle" fill="#000" stroke="#000" stroke-width="0.12">500</text>
<text transform="translate(333.15,230.30) scale(1.620,1)" font-size="10.0" text-anchor="middle" fill="#000" stroke="#000" stroke-width="0.12">Recall</text>
</g>
<g transform="scale(0.48,0.255)">
<polyline points="97.7,2032.4 98.1,2022.3 98.5,1993.2 98.8,1964.6 99.2,1942.5 99.6,1933.8 100.0,1925.3 100.3,1903.8 100.7,1886.9 101.1,1868.4 101.5,1856.9 101.8,1857.4 102.2,1850.3 102.6,1877.4 103.0,1851.3 103.3,1864.5 103.7,1866.0 104.1,1871.9 104.5,1852.4 104.8,1863.1 105.2,1824.3 105.6,1797.9 106.0,1784.4 106.3,1781.0 106.7,1726.4 107.1,1708.1 107.5,1741.4 107.8,1745.9 108.2,1742.7 108.6,1729.0 109.0,1739.5 109.3,1720.1 109.7,1722.7 110.1,1703.6 110.5,1702.0 110.8,1690.7 111.2,1711.2 111.6,1691.4 112.0,1681.2 112.3,1677.1 112.7,1714.1 113.1,1675.4 113.5,1681.4 113.9,1701.4 114.2,1699.0 114.6,1692.3 115.0,1688.9 115.4,1703.0 115.7,1707.0 116.1,1701.9 116.5,1674.1 116.9,1682.9 117.2,1709.7 117.6,1694.8 118.0,1703.3 118.4,1712.2 118.7,1664.7 119.1,1684.4 119.5,1677.2 119.9,1684.7 120.2,1705.6 120.6,1662.6 121.0,1642.9 121.4,1679.7 121.7,1680.1 122.1,1682.5 122.5,1695.4 122.9,1670.5 123.2,1652.9 123.6,1646.8 124.0,1772.1 124.4,1689.0 124.7,1691.9 125.1,1675.5 125.5,1657.2 125.9,1668.5 126.2,1668.9 126.6,1645.1 127.0,1684.3 127.4,1684.8 127.7,1683.4 128.1,1640.3 128.5,1668.3 128.9,1689.6 129.2,1675.8 129.6,1656.4 130.0,1676.9 130.4,1645.3 130.7,1669.0 131.1,1649.2 131.5,1671.4 131.9,1639.6 132.2,1664.4 132.6,1644.6 133.0,1630.6 133.4,1656.3 133.7,1674.7 134.1,1655.2 134.5,1651.7 134.9,1650.9 135.2,1634.4 135.6,1644.1 136.0,1645.7 136.4,1646.5 136.8,1648.0 137.1,1650.7 137.5,1663.2 137.9,1660.9 138.3,1660.8 138.6,1661.0 139.0,1634.7 139.4,1655.7 139.8,1659.0 140.1,1644.6 140.5,1648.4 140.9,1652.5 141.3,1647.5 141.6,1639.0 142.0,1627.4 142.4,1609.1 142.8,1606.9 143.1,1623.9 143.5,1629.2 143.9,1632.3 144.3,1640.4 144.6,1613.0 145.0,1638.6 145.4,1642.4 145.8,1624.5 146.1,1619.9 146.5,1630.1 146.9,1607.8 147.3,1619.7 147.6,1616.8 148.0,1635.2 148.4,1611.2 148.8,1631.8 149.1,1628.6 149.5,1608.4 149.9,1598.2 150.3,1597.9 150.6,1597.7 151.0,1619.4 151.4,1635.3 151.8,1626.1 152.1,1636.1 152.5,1607.7 152.9,1630.1 153.3,1627.5 153.6,1630.4 154.0,1634.4 154.4,1623.7 154.8,1632.4 155.1,1651.7 155.5,1604.7 155.9,1614.0 156.3,1601.8 156.6,1598.3 157.0,1612.1 157.4,1600.5 157.8,1593.4 158.2,1599.9 158.5,1610.8 158.9,1597.8 159.3,1592.5 159.7,1606.7 160.0,1620.5 160.4,1602.1 160.8,1600.9 161.2,1613.2 161.5,1608.0 161.9,1613.5 162.3,1597.6 162.7,1608.1 163.0,1616.4 163.4,1623.3 163.8,1618.1 164.2,1597.1 164.5,1610.7 164.9,1609.2 165.3,1593.8 165.7,1615.0 166.0,1615.1 166.4,1600.3 166.8,1614.5 167.2,1596.9 167.5,1592.4 167.9,1609.6 168.3,1603.9 168.7,1602.6 169.0,1598.2 169.4,1606.8 169.8,1608.0 170.2,1612.2 170.5,1612.3 170.9,1615.3 171.3,1597.2 171.7,1590.3 172.0,1601.3 172.4,1596.9 172.8,1600.3 173.2,1606.9 173.5,1607.6 173.9,1592.1 174.3,1601.7 174.7,1599.4 175.0,1589.2 175.4,1601.2 175.8,1593.1 176.2,1607.0 176.5,1597.2 176.9,1591.4 177.3,1588.2 177.7,1586.2 178.0,1588.0 178.4,1586.0 178.8,1598.0 179.2,1598.0 179.5,1605.1 179.9,1610.8 180.3,1604.6 180.7,1595.6 181.1,1590.5 181.4,1605.8 181.8,1590.7 182.2,1600.4 182.6,1603.0 182.9,1591.9 183.3,1586.0 183.7,1587.1 184.1,1596.3 184.4,1597.0 184.8,1589.1 185.2,1596.1 185.6,1589.2 185.9,1586.9 186.3,1592.5 186.7,1585.6 187.1,1593.5 187.4,1588.9 187.8,1589.3 188.2,1595.7 188.6,1594.0 188.9,1591.7 189.3,1592.1 189.7,1600.7 190.1,1586.5 190.4,1582.3 190.8,1597.5 191.2,1586.2 191.6,1589.7 191.9,1598.7 192.3,1589.1 192.7,1592.5 193.1,1588.6 193.4,1584.9 193.8,1588.7 194.2,1598.9 194.6,1589.1 194.9,1587.5 195.3,1583.1 195.7,1592.3 196.1,1587.1 196.4,1583.6 196.8,1590.8 197.2,1592.7 197.6,1594.6 197.9,1600.4 198.3,1599.2 198.7,1597.0 199.1,1599.5 199.4,1590.2 199.8,1591.7 200.2,1590.0 200.6,1593.6 200.9,1593.8 201.3,1588.0 201.7,1589.8 202.1,1588.7 202.4,1590.6 202.8,1589.5 203.2,1584.3 203.6,1590.8 204.0,1589.9 204.3,1587.2 204.7,1594.0 205.1,1585.3 205.5,1587.7 205.8,1591.8 206.2,1587.0 206.6,1584.4 207.0,1585.6 207.3,1582.6 207.7,1591.1 208.1,1589.3 208.5,1586.1 208.8,1582.9 209.2,1584.6 209.6,1585.7 210.0,1588.4 210.3,1587.4 210.7,1587.2 211.1,1583.5 211.5,1582.8 211.8,1583.4 212.2,1582.2 212.6,1589.6 213.0,1585.7 213.3,1587.2 213.7,1584.9 214.1,1588.4 214.5,1588.1 214.8,1584.5 215.2,1590.6 215.6,1590.5 216.0,1588.6 216.3,1584.4 216.7,1588.1 217.1,1584.4 217.5,1588.2 217.8,1589.2 218.2,1587.2 218.6,1585.5 219.0,1582.8 219.3,1581.6 219.7,1586.8 220.1,1584.4 220.5,1584.4 220.8,1586.6 221.2,1584.0 221.6,1581.9 222.0,1584.6 222.3,1581.9 222.7,1587.6 223.1,1589.5 223.5,1585.1 223.8,1587.2 224.2,1585.7 224.6,1585.7 225.0,1588.7 225.4,1584.7 225.7,1583.3 226.1,1587.5 226.5,1588.2 226.9,1584.1 227.2,1581.6 227.6,1580.9 228.0,1583.5 228.4,1585.5 228.7,1585.7 229.1,1587.8 229.5,1586.2 229.9,1587.5 230.2,1588.5 230.6,1587.2 231.0,1589.1 231.4,1586.7 231.7,1584.0 232.1,1583.3 232.5,1580.6 232.9,1580.5 233.2,1581.8 233.6,1580.5 234.0,1583.2 234.4,1581.8 234.7,1584.8 235.1,1584.3 235.5,1580.9 235.9,1582.1 236.2,1583.3 236.6,1581.7 237.0,1584.4 237.4,1581.8 237.7,1586.3 238.1,1586.5 238.5,1587.0 238.9,1586.6 239.2,1581.9 239.6,1586.0 240.0,1585.8 240.4,1583.9 240.7,1582.3 241.1,1581.2 241.5,1583.3 241.9,1585.1 242.2,1581.9 242.6,1585.1 243.0,1586.7 243.4,1586.4 243.7,1584.6 244.1,1581.3 244.5,1581.2 244.9,1582.2 245.2,1582.8 245.6,1582.1 246.0,1582.2 246.4,1583.8 246.7,1585.9 247.1,1586.1 247.5,1582.9 247.9,1582.5 248.3,1581.4 248.6,1585.1 249.0,1581.9 249.4,1583.5 249.8,1581.2 250.1,1582.1 250.5,1582.6 250.9,1581.5 251.3,1582.0 251.6,1582.0 252.0,1584.6 252.4,1583.4 252.8,1584.1 253.1,1588.1 253.5,1590.7 253.9,1591.4 254.3,1594.0 254.6,1594.0 255.0,1596.7 255.4,1598.3 255.8,1594.7 256.1,1596.8 256.5,1597.0 256.9,1598.3 257.3,1598.9 257.6,1598.1 258.0,1595.9 258.4,1598.8 258.8,1596.0 259.1,1594.1 259.5,1595.5 259.9,1597.0 260.3,1598.2 260.6,1598.9 261.0,1598.6 261.4,1595.8 261.8,1598.9 262.1,1596.3 262.5,1595.8 262.9,1598.8 263.3,1599.6 263.6,1596.9 264.0,1596.0 264.4,1597.4 264.8,1595.3 265.1,1597.6 265.5,1597.5 265.9,1599.0 266.3,1597.0 266.6,1598.9 267.0,1599.2 267.4,1596.5 267.8,1596.7 268.1,1596.0 268.5,1595.4 268.9,1595.8 269.3,1597.9 269.6,1596.3 270.0,1598.5 270.4,1598.6 270.8,1597.8 271.2,1599.1 271.5,1599.5 271.9,1597.2 272.3,1595.9 272.7,1597.1 273.0,1597.5 273.4,1598.5 273.8,1597.4 274.2,1596.7 274.5,1594.8 274.9,1598.2 275.3,1595.5 275.7,1594.2 276.0,1596.4 276.4,1595.6 276.8,1594.9 277.2,1595.4 277.5,1597.2 277.9,1596.4 278.3,1594.9 278.7,1597.9 279.0,1597.4 279.4,1599.3 279.8,1596.2 280.2,1595.3 280.5,1598.3 280.9,1596.3 281.3,1595.8 281.7,1598.1 282.0,1597.3 282.4,1596.1 282.8,1597.3 283.2,1597.0 283.5,1594.7 283.9,1595.4 284.3,1596.3 284.7,1598.6 285.0,1599.3 285.4,1596.2 285.8,1595.5 286.2,1594.8 286.5,1595.7 286.9,1596.0 287.3,1596.4 287.7,1595.6 288.0,1597.1 288.4,1597.0 288.8,1597.1 289.2,1596.3 289.5,1598.0 289.9,1599.5 290.3,1599.6 290.7,1599.6 291.0,1596.5 291.4,1595.9 291.8,1595.6 292.2,1596.8 292.5,1598.9 292.9,1598.1 293.3,1596.0 293.7,1596.8 294.1,1596.6 294.4,1597.6 294.8,1599.1 295.2,1597.6 295.6,1597.6 295.9,1598.3 296.3,1598.9 296.7,1597.3 297.1,1598.3 297.4,1597.6 297.8,1598.7 298.2,1597.0 298.6,1598.0 298.9,1598.0 299.3,1596.0 299.7,1596.2 300.1,1596.2 300.4,1597.9 300.8,1596.5 301.2,1597.9 301.6,1595.9 301.9,1595.6 302.3,1596.4 302.7,1596.0 303.1,1597.1 303.4,1596.8 303.8,1599.2 304.2,1596.6 304.6,1596.3 304.9,1599.0 305.3,1599.7 305.7,1598.6 306.1,1597.4 306.4,1599.5 306.8,1596.9 307.2,1598.5 307.6,1596.4 307.9,1596.6 308.3,1597.9 308.7,1598.9 309.1,1600.5 309.4,1601.0 309.8,1599.2 310.2,1597.8 310.6,1596.7 310.9,1598.5 311.3,1596.9 311.7,1598.9 312.1,1597.1 312.4,1596.6 312.8,1599.4 313.2,1597.7 313.6,1597.7 313.9,1597.7 314.3,1597.1 314.7,1598.2 315.1,1598.8 315.4,1599.6 315.8,1597.9 316.2,1597.1 316.6,1599.8 317.0,1598.4 317.3,1599.9 317.7,1600.9 318.1,1601.3 318.5,1599.9 318.8,1600.6 319.2,1601.0 319.6,1601.8 320.0,1601.2 320.3,1599.1 320.7,1601.4 321.1,1600.4 321.5,1599.6 321.8,1601.5 322.2,1601.3 322.6,1598.8 323.0,1597.6 323.3,1597.6 323.7,1600.3 324.1,1599.0 324.5,1599.8 324.8,1601.2 325.2,1600.6 325.6,1598.6 326.0,1598.0 326.3,1599.7 326.7,1601.7 327.1,1599.2 327.5,1598.0 327.8,1599.3 328.2,1601.0 328.6,1600.5 329.0,1599.7 329.3,1600.3 329.7,1601.0 330.1,1601.8 330.5,1601.9 330.8,1602.9 331.2,1602.6 331.6,1599.8 332.0,1602.4 332.3,1600.6 332.7,1599.7 333.1,1600.9 333.5,1600.7 333.8,1602.1 334.2,1600.9 334.6,1600.3 335.0,1600.0 335.3,1600.9 335.7,1599.4 336.1,1599.3 336.5,1600.3 336.8,1600.4 337.2,1602.0 337.6,1600.1 338.0,1600.5 338.4,1599.8 338.7,1601.8 339.1,1600.0 339.5,1602.7 339.9,1602.2 340.2,1603.6 340.6,1603.9 341.0,1601.9 341.4,1603.7 341.7,1603.3 342.1,1603.9 342.5,1601.7 342.9,1603.7 343.2,1603.6 343.6,1601.6 344.0,1601.5 344.4,1601.5 344.7,1600.6 345.1,1603.6 345.5,1602.5 345.9,1601.8 346.2,1601.6 346.6,1601.6 347.0,1604.1 347.4,1605.0 347.7,1602.9 348.1,1602.7 348.5,1603.9 348.9,1605.3 349.2,1604.0 349.6,1605.2 350.0,1603.2 350.4,1604.0 350.7,1602.6 351.1,1604.7 351.5,1604.1 351.9,1605.4 352.2,1603.4 352.6,1603.5 353.0,1604.7 353.4,1602.6 353.7,1602.8 354.1,1604.2 354.5,1602.9 354.9,1604.1 355.2,1602.6 355.6,1604.3 356.0,1602.6 356.4,1605.2 356.7,1603.9 357.1,1605.0 357.5,1605.0 357.9,1604.3 358.2,1606.1 358.6,1606.3 359.0,1606.7 359.4,1604.8 359.7,1605.8 360.1,1605.3 360.5,1605.7 360.9,1606.2 361.3,1604.0 361.6,1604.7 362.0,1604.5 362.4,1604.2 362.8,1603.7 363.1,1605.5 363.5,1606.9 363.9,1606.2 364.3,1606.9 364.6,1607.5 365.0,1605.0 365.4,1605.0 365.8,1605.7 366.1,1607.0 366.5,1605.4 366.9,1605.6 367.3,1606.9 367.6,1604.7 368.0,1604.1 368.4,1604.1 368.8,1604.2 369.1,1605.2 369.5,1606.5 369.9,1605.9 370.3,1607.3 370.6,1606.4 371.0,1607.9 371.4,1608.4 371.8,1606.7 372.1,1607.2 372.5,1606.2 372.9,1605.6 373.3,1605.1 373.6,1605.8 374.0,1605.3 374.4,1605.7 374.8,1605.1 375.1,1605.1 375.5,1607.7 375.9,1608.1 376.3,1607.9 376.6,1608.3 377.0,1608.7 377.4,1606.6 377.8,1608.6 378.1,1608.9 378.5,1607.2 378.9,1608.3 379.3,1608.6 379.6,1606.5 380.0,1606.3 380.4,1607.3 380.8,1608.8 381.1,1608.9 381.5,1606.7 381.9,1606.5 382.3,1608.8 382.6,1607.6 383.0,1608.3 383.4,1607.5 383.8,1608.5 384.2,1609.5 384.5,1610.0 384.9,1609.8 385.3,1607.8 385.7,1606.9 386.0,1607.3 386.4,1607.2 386.8,1609.0 387.2,1609.2 387.5,1607.6 387.9,1606.9 388.3,1608.1 388.7,1607.7 389.0,1607.1 389.4,1607.1 389.8,1608.7 390.2,1608.4 390.5,1609.1 390.9,1609.2 391.3,1609.3 391.7,1609.9 392.0,1611.0 392.4,1609.2 392.8,1608.7 393.2,1608.1 393.5,1610.0 393.9,1610.5 394.3,1609.7 394.7,1608.3 395.0,1609.2 395.4,1610.4 395.8,1609.7 396.2,1608.4 396.5,1608.2 396.9,1608.2 397.3,1609.5 397.7,1610.5 398.0,1609.1 398.4,1608.9 398.8,1608.6 399.2,1609.9 399.5,1610.8 399.9,1611.3" fill="none" stroke="#1f77b4" stroke-width="5.63" stroke-linejoin="round" marker-start="url(#dot)" marker-mid="url(#dot)" marker-end="url(#dot)"/>
</g>
<rect x="39.2" y="397.6" width="160.30" height="127.60" fill="none" stroke="#444" stroke-width="0.9"/>
<path d="M35.40,519.40H39.2M35.40,490.85H39.2M35.40,462.30H39.2M35.40,433.75H39.2M35.40,405.20H39.2M46.90,525.2V527.10M137.00,525.2V527.10" stroke="#444" stroke-width="0.8" fill="none"/>
<g font-family="'DejaVu Sans','Liberation Sans',sans-serif">
<text transform="translate(30.60,522.65) scale(1.760,1)" font-size="7.9" text-anchor="end" fill="#000" stroke="#000" stroke-width="0.12">0.0</text>
<text transform="translate(30.60,494.10) scale(1.760,1)" font-size="7.9" text-anchor="end" fill="#000" stroke="#000" stroke-width="0.12">0.2</text>
<text transform="translate(30.60,465.55) scale(1.760,1)" font-size="7.9" text-anchor="end" fill="#000" stroke="#000" stroke-width="0.12">0.4</text>
<text transform="translate(30.60,437.00) scale(1.760,1)" font-size="7.9" text-anchor="end" fill="#000" stroke="#000" stroke-width="0.12">0.6</text>
<text transform="translate(30.60,408.45) scale(1.760,1)" font-size="7.9" text-anchor="end" fill="#000" stroke="#000" stroke-width="0.12">0.8</text>
<text transform="translate(46.90,536.90) scale(1.760,1)" font-size="7.9" text-anchor="middle" fill="#000" stroke="#000" stroke-width="0.12">0</text>
<text transform="translate(137.00,536.90) scale(1.760,1)" font-size="7.9" text-anchor="middle" fill="#000" stroke="#000" stroke-width="0.12">500</text>
<text transform="translate(119.35,393.50) scale(1.620,1)" font-size="10.0" text-anchor="middle" fill="#000" stroke="#000" stroke-width="0.12">mAP@0.5</text>
</g>
<g transform="scale(0.48,0.255)">
<polyline points="543.3,2033.4 543.7,2019.5 544.1,2005.5 544.5,1972.9 544.8,1982.4 545.2,1976.4 545.6,1963.4 546.0,1972.5 546.3,1968.8 546.7,1962.6 547.1,1955.6 547.5,1934.2 547.8,1945.5 548.2,1905.9 548.6,1921.4 549.0,1907.4 549.3,1889.8 549.7,1911.6 550.1,1902.1 550.5,1887.1 550.9,1880.0 551.2,1853.9 551.6,1848.3 552.0,1801.6 552.4,1769.2 552.7,1771.9 553.1,1762.5 553.5,1789.9 553.9,1778.6 554.2,1759.2 554.6,1744.0 555.0,1736.4 555.4,1771.8 555.7,1743.8 556.1,1749.5 556.5,1744.1 556.9,1728.4 557.2,1752.1 557.6,1722.9 558.0,1711.5 558.4,1709.9 558.7,1737.6 559.1,1736.1 559.5,1759.1 559.9,1726.5 560.2,1703.8 560.6,1746.3 561.0,1721.3 561.4,1714.5 561.7,1757.4 562.1,1712.5 562.5,1724.6 562.9,1743.4 563.3,1766.7 563.6,1724.0 564.0,1736.8 564.4,1729.4 564.8,1747.5 565.1,1726.4 565.5,1731.6 565.9,1706.0 566.3,1704.7 566.6,1700.1 567.0,1728.5 567.4,1751.3 567.8,1707.2 568.1,1685.7 568.5,1695.5 568.9,1681.3 569.3,1687.8 569.6,1695.6 570.0,1709.3 570.4,1717.5 570.8,1827.1 571.1,1724.1 571.5,1715.5 571.9,1706.1 572.3,1729.8 572.6,1716.4 573.0,1716.3 573.4,1694.5 573.8,1674.4 574.2,1676.8 574.5,1673.9 574.9,1674.5 575.3,1694.1 575.7,1693.9 576.0,1666.3 576.4,1648.6 576.8,1683.2 577.2,1705.1 577.5,1660.3 577.9,1647.1 578.3,1654.5 578.7,1646.3 579.0,1654.6 579.4,1641.1 579.8,1670.0 580.2,1670.5 580.5,1658.6 580.9,1676.7 581.3,1658.1 581.7,1672.9 582.0,1656.2 582.4,1644.6 582.8,1658.0 583.2,1635.8 583.5,1643.8 583.9,1640.7 584.3,1673.3 584.7,1681.2 585.1,1656.6 585.4,1636.0 585.8,1641.7 586.2,1631.0 586.6,1663.6 586.9,1640.1 587.3,1631.1 587.7,1637.7 588.1,1648.2 588.4,1640.6 588.8,1655.9 589.2,1644.4 589.6,1638.5 589.9,1641.8 590.3,1653.4 590.7,1667.2 591.1,1664.8 591.4,1639.5 591.8,1652.0 592.2,1661.3 592.6,1658.7 592.9,1647.6 593.3,1640.4 593.7,1626.8 594.1,1621.9 594.4,1619.2 594.8,1618.7 595.2,1631.3 595.6,1648.4 596.0,1625.5 596.3,1642.4 596.7,1634.6 597.1,1644.2 597.5,1627.8 597.8,1643.2 598.2,1641.2 598.6,1647.4 599.0,1626.4 599.3,1626.5 599.7,1625.8 600.1,1636.7 600.5,1645.8 600.8,1624.6 601.2,1619.2 601.6,1617.8 602.0,1610.3 602.3,1618.9 602.7,1637.0 603.1,1628.4 603.5,1636.3 603.8,1631.1 604.2,1630.7 604.6,1626.4 605.0,1611.6 605.3,1609.4 605.7,1622.5 606.1,1612.9 606.5,1607.5 606.8,1608.4 607.2,1616.5 607.6,1607.2 608.0,1617.8 608.4,1635.5 608.7,1636.4 609.1,1623.2 609.5,1627.4 609.9,1627.4 610.2,1627.9 610.6,1635.1 611.0,1641.1 611.4,1641.4 611.7,1625.0 612.1,1628.7 612.5,1625.5 612.9,1608.1 613.2,1611.4 613.6,1606.4 614.0,1605.9 614.4,1601.2 614.7,1625.4 615.1,1625.3 615.5,1606.9 615.9,1615.0 616.2,1602.7 616.6,1621.8 617.0,1633.1 617.4,1611.2 617.7,1617.5 618.1,1616.8 618.5,1603.2 618.9,1619.6 619.3,1603.1 619.6,1613.8 620.0,1622.3 620.4,1625.9 620.8,1618.7 621.1,1617.1 621.5,1604.0 621.9,1623.1 622.3,1630.5 622.6,1630.1 623.0,1616.9 623.4,1606.4 623.8,1610.6 624.1,1608.4 624.5,1606.5 624.9,1623.1 625.3,1623.1 625.6,1602.1 626.0,1612.0 626.4,1598.9 626.8,1605.9 627.1,1615.9 627.5,1625.2 627.9,1623.4 628.3,1619.5 628.6,1614.7 629.0,1612.4 629.4,1582.7 629.8,1609.3 630.2,1621.0 630.5,1619.7 630.9,1601.5 631.3,1618.1 631.7,1606.9 632.0,1609.0 632.4,1604.2 632.8,1611.6 633.2,1613.7 633.5,1611.0 633.9,1600.6 634.3,1610.5 634.7,1620.3 635.0,1623.9 635.4,1607.5 635.8,1613.5 636.2,1620.3 636.5,1611.9 636.9,1602.9 637.3,1604.9 637.7,1615.6 638.0,1614.1 638.4,1616.4 638.8,1621.9 639.2,1604.6 639.5,1608.2 639.9,1616.4 640.3,1603.9 640.7,1597.1 641.1,1597.5 641.4,1609.2 641.8,1615.0 642.2,1610.5 642.6,1607.4 642.9,1600.3 643.3,1596.8 643.7,1596.7 644.1,1605.4 644.4,1604.8 644.8,1613.0 645.2,1608.8 645.6,1615.1 645.9,1616.6 646.3,1616.3 646.7,1613.7 647.1,1612.1 647.4,1604.5 647.8,1612.1 648.2,1614.3 648.6,1605.9 648.9,1602.2 649.3,1600.1 649.7,1599.0 650.1,1599.3 650.4,1601.1 650.8,1598.8 651.2,1607.8 651.6,1609.2 651.9,1601.8 652.3,1606.8 652.7,1603.7 653.1,1606.2 653.5,1604.6 653.8,1598.2 654.2,1598.0 654.6,1600.8 655.0,1604.0 655.3,1598.3 655.7,1597.9 656.1,1600.5 656.5,1596.1 656.8,1596.5 657.2,1593.6 657.6,1595.6 658.0,1593.6 658.3,1597.1 658.7,1596.5 659.1,1594.6 659.5,1603.2 659.8,1601.8 660.2,1599.5 660.6,1605.4 661.0,1598.6 661.3,1596.8 661.7,1593.2 662.1,1598.8 662.5,1599.8 662.8,1594.6 663.2,1598.7 663.6,1595.1 664.0,1598.7 664.4,1601.2 664.7,1602.8 665.1,1604.2 665.5,1602.1 665.9,1604.5 666.2,1597.2 666.6,1592.5 667.0,1601.3 667.4,1605.3 667.7,1605.8 668.1,1597.0 668.5,1603.2 668.9,1598.2 669.2,1600.8 669.6,1603.1 670.0,1603.3 670.4,1598.0 670.7,1604.0 671.1,1596.1 671.5,1596.5 671.9,1600.6 672.2,1602.5 672.6,1597.9 673.0,1596.3 673.4,1599.4 673.7,1600.3 674.1,1599.1 674.5,1593.3 674.9,1595.3 675.3,1592.5 675.6,1593.7 676.0,1595.1 676.4,1596.5 676.8,1594.7 677.1,1596.2 677.5,1594.2 677.9,1599.9 678.3,1600.6 678.6,1594.5 679.0,1597.7 679.4,1593.9 679.8,1591.3 680.1,1594.5 680.5,1601.5 680.9,1596.7 681.3,1595.9 681.6,1600.1 682.0,1595.2 682.4,1597.7 682.8,1603.7 683.1,1605.9 683.5,1605.3 683.9,1600.6 684.3,1596.4 684.6,1603.1 685.0,1606.5 685.4,1601.4 685.8,1601.7 686.2,1601.6 686.5,1597.3 686.9,1594.5 687.3,1594.2 687.7,1594.5 688.0,1604.1 688.4,1606.4 688.8,1602.3 689.2,1596.9 689.5,1604.9 689.9,1603.4 690.3,1604.4 690.7,1604.9 691.0,1606.9 691.4,1607.9 691.8,1608.9 692.2,1611.0 692.5,1607.1 692.9,1606.9 693.3,1604.1 693.7,1604.0 694.0,1600.7 694.4,1606.5 694.8,1603.0 695.2,1607.4 695.5,1606.3 695.9,1604.5 696.3,1608.6 696.7,1609.9 697.0,1608.2 697.4,1613.3 697.8,1610.6 698.2,1614.4 698.6,1614.5 698.9,1610.1 699.3,1604.5 699.7,1603.2 700.1,1609.1 700.4,1613.2 700.8,1610.8 701.2,1610.6 701.6,1611.3 701.9,1607.3 702.3,1606.3 702.7,1607.5 703.1,1607.4 703.4,1607.8 703.8,1606.9 704.2,1603.8 704.6,1603.3 704.9,1603.3 705.3,1603.3 705.7,1610.9 706.1,1610.6 706.4,1606.9 706.8,1610.7 707.2,1608.8 707.6,1614.0 707.9,1614.4 708.3,1612.5 708.7,1615.3 709.1,1612.6 709.5,1613.6 709.8,1607.3 710.2,1610.5 710.6,1611.2 711.0,1607.0 711.3,1607.8 711.7,1613.6 712.1,1614.1 712.5,1610.2 712.8,1612.9 713.2,1613.5 713.6,1609.8 714.0,1609.7 714.3,1612.0 714.7,1609.9 715.1,1608.2 715.5,1613.8 715.8,1613.5 716.2,1613.1 716.6,1607.0 717.0,1613.2 717.3,1612.6 717.7,1614.0 718.1,1609.5 718.5,1606.5 718.8,1613.1 719.2,1607.5 719.6,1607.0 720.0,1611.7 720.4,1606.5 720.7,1610.8 721.1,1607.5 721.5,1613.5 721.9,1612.1 722.2,1611.0 722.6,1606.7 723.0,1605.6 723.4,1608.1 723.7,1614.2 724.1,1612.8 724.5,1612.8 724.9,1606.7 725.2,1607.4 725.6,1610.5 726.0,1612.1 726.4,1608.8 726.7,1614.2 727.1,1609.3 727.5,1608.8 727.9,1610.9 728.2,1609.1 728.6,1611.5 729.0,1615.0 729.4,1613.8 729.7,1616.9 730.1,1617.2 730.5,1614.8 730.9,1609.8 731.2,1613.9 731.6,1612.7 732.0,1607.6 732.4,1607.1 732.8,1606.5 733.1,1608.1 733.5,1609.7 733.9,1610.4 734.3,1610.6 734.6,1612.0 735.0,1613.6 735.4,1615.5 735.8,1617.9 736.1,1616.0 736.5,1611.3 736.9,1611.5 737.3,1615.2 737.6,1610.5 738.0,1615.9 738.4,1609.6 738.8,1609.7 739.1,1610.6 739.5,1612.3 739.9,1609.0 740.3,1615.4 740.6,1617.2 741.0,1614.0 741.4,1614.5 741.8,1613.7 742.1,1612.1 742.5,1616.0 742.9,1608.8 743.3,1608.7 743.7,1614.0 744.0,1610.2 744.4,1610.5 744.8,1609.2 745.2,1608.1 745.5,1605.8 745.9,1612.3 746.3,1606.9 746.7,1609.5 747.0,1613.0 747.4,1612.8 747.8,1612.8 748.2,1607.9 748.5,1609.3 748.9,1614.0 749.3,1609.9 749.7,1610.2 750.0,1607.4 750.4,1613.2 750.8,1608.1 751.2,1605.8 751.5,1612.8 751.9,1611.4 752.3,1613.9 752.7,1611.3 753.0,1614.1 753.4,1608.1 753.8,1611.9 754.2,1609.1 754.6,1608.0 754.9,1610.5 755.3,1612.5 755.7,1607.0 756.1,1612.5 756.4,1612.7 756.8,1612.1 757.2,1609.6 757.6,1610.4 757.9,1613.0 758.3,1609.9 758.7,1607.3 759.1,1606.4 759.4,1607.9 759.8,1610.0 760.2,1613.4 760.6,1610.2 760.9,1608.0 761.3,1608.7 761.7,1604.5 762.1,1609.3 762.4,1605.9 762.8,1605.3 763.2,1603.5 763.6,1603.1 763.9,1607.9 764.3,1604.2 764.7,1607.1 765.1,1605.9 765.5,1603.0 765.8,1604.9 766.2,1605.7 766.6,1610.3 767.0,1607.6 767.3,1609.5 767.7,1609.0 768.1,1608.8 768.5,1603.7 768.8,1604.5 769.2,1604.0 769.6,1608.3 770.0,1608.9 770.3,1604.4 770.7,1608.8 771.1,1603.6 771.5,1605.9 771.8,1607.2 772.2,1606.7 772.6,1607.2 773.0,1607.2 773.3,1607.7 773.7,1605.6 774.1,1608.4 774.5,1610.4 774.8,1609.1 775.2,1611.4 775.6,1609.5 776.0,1608.4 776.4,1605.7 776.7,1610.1 777.1,1609.6 777.5,1606.4 777.9,1608.7 778.2,1605.7 778.6,1605.5 779.0,1610.9 779.4,1610.4 779.7,1607.2 780.1,1607.9 780.5,1607.1 780.9,1604.3 781.2,1605.8 781.6,1607.4 782.0,1605.8 782.4,1608.4 782.7,1612.8 783.1,1612.6 783.5,1610.1 783.9,1606.4 784.2,1607.6 784.6,1610.6 785.0,1606.4 785.4,1609.4 785.7,1612.0 786.1,1610.6 786.5,1611.6 786.9,1613.9 787.2,1610.3 787.6,1609.1 788.0,1606.5 788.4,1611.9 788.8,1608.2 789.1,1607.7 789.5,1611.6 789.9,1611.6 790.3,1610.5 790.6,1612.5 791.0,1614.9 791.4,1610.4 791.8,1613.7 792.1,1612.7 792.5,1612.7 792.9,1609.3 793.3,1610.6 793.6,1612.1 794.0,1608.7 794.4,1612.1 794.8,1610.7 795.1,1613.8 795.5,1611.2 795.9,1610.3 796.3,1609.3 796.6,1611.5 797.0,1614.3 797.4,1612.5 797.8,1609.7 798.1,1613.0 798.5,1616.5 798.9,1616.6 799.3,1611.4 799.7,1615.9 800.0,1617.2 800.4,1617.2 800.8,1612.2 801.2,1613.7 801.5,1612.1 801.9,1611.4 802.3,1613.0 802.7,1611.6 803.0,1613.0 803.4,1613.0 803.8,1614.7 804.2,1617.5 804.5,1614.5 804.9,1615.6 805.3,1616.0 805.7,1612.0 806.0,1614.0 806.4,1616.6 806.8,1614.0 807.2,1613.7 807.5,1616.9 807.9,1616.2 808.3,1614.1 808.7,1615.6 809.0,1611.3 809.4,1611.0 809.8,1612.9 810.2,1610.8 810.6,1616.0 810.9,1616.8 811.3,1612.5 811.7,1613.6 812.1,1616.3 812.4,1614.7 812.8,1613.0 813.2,1613.2 813.6,1617.0 813.9,1618.3 814.3,1616.8 814.7,1618.4 815.1,1618.5 815.4,1615.5 815.8,1615.5 816.2,1617.8 816.6,1613.6 816.9,1615.3 817.3,1612.6 817.7,1613.4 818.1,1613.6 818.4,1615.1 818.8,1614.0 819.2,1616.4 819.6,1617.3 819.9,1613.7 820.3,1616.6 820.7,1616.7 821.1,1614.4 821.5,1616.2 821.8,1616.7 822.2,1613.5 822.6,1616.7 823.0,1617.8 823.3,1614.2 823.7,1616.6 824.1,1617.2 824.5,1614.1 824.8,1616.4 825.2,1613.1 825.6,1612.9 826.0,1612.7 826.3,1616.5 826.7,1618.1 827.1,1615.5 827.5,1614.0 827.8,1617.1 828.2,1618.5 828.6,1618.9 829.0,1619.7 829.3,1618.3 829.7,1617.3 830.1,1616.2 830.5,1619.2 830.8,1619.6 831.2,1620.2 831.6,1619.6 832.0,1619.9 832.3,1615.6 832.7,1617.2 833.1,1619.3 833.5,1617.0 833.9,1614.4 834.2,1614.4 834.6,1615.3 835.0,1617.2 835.4,1617.9 835.7,1618.8 836.1,1616.2 836.5,1615.3 836.9,1616.7 837.2,1615.2 837.6,1615.8 838.0,1615.9 838.4,1618.4 838.7,1619.5 839.1,1620.1 839.5,1616.5 839.9,1615.7 840.2,1614.9 840.6,1615.0 841.0,1615.2 841.4,1617.4 841.7,1616.4 842.1,1619.4 842.5,1617.9 842.9,1620.7 843.2,1616.8 843.6,1615.7 844.0,1619.3 844.4,1617.4 844.8,1616.4 845.1,1620.3 845.5,1619.0 845.9,1619.3" fill="none" stroke="#1f77b4" stroke-width="5.63" stroke-linejoin="round" marker-start="url(#dot)" marker-mid="url(#dot)" marker-end="url(#dot)"/>
</g>
<rect x="253.3" y="397.6" width="159.70" height="127.60" fill="none" stroke="#444" stroke-width="0.9"/>
<path d="M249.50,519.30H253.3M249.50,493.00H253.3M249.50,466.70H253.3M249.50,440.40H253.3M249.50,414.10H253.3M260.80,525.2V527.10M351.00,525.2V527.10" stroke="#444" stroke-width="0.8" fill="none"/>
<g font-family="'DejaVu Sans','Liberation Sans',sans-serif">
<text transform="translate(244.70,522.55) scale(1.760,1)" font-size="7.9" text-anchor="end" fill="#000" stroke="#000" stroke-width="0.12">0.0</text>
<text transform="translate(244.70,496.25) scale(1.760,1)" font-size="7.9" text-anchor="end" fill="#000" stroke="#000" stroke-width="0.12">0.1</text>
<text transform="translate(244.70,469.95) scale(1.760,1)" font-size="7.9" text-anchor="end" fill="#000" stroke="#000" stroke-width="0.12">0.2</text>
<text transform="translate(244.70,443.65) scale(1.760,1)" font-size="7.9" text-anchor="end" fill="#000" stroke="#000" stroke-width="0.12">0.3</text>
<text transform="translate(244.70,417.35) scale(1.760,1)" font-size="7.9" text-anchor="end" fill="#000" stroke="#000" stroke-width="0.12">0.4</text>
<text transform="translate(260.80,536.90) scale(1.760,1)" font-size="7.9" text-anchor="middle" fill="#000" stroke="#000" stroke-width="0.12">0</text>
<text transform="translate(351.00,536.90) scale(1.760,1)" font-size="7.9" text-anchor="middle" fill="#000" stroke="#000" stroke-width="0.12">500</text>
<text transform="translate(333.15,393.50) scale(1.620,1)" font-size="10.0" text-anchor="middle" fill="#000" stroke="#000" stroke-width="0.12">mAP@0.5:0.95</text>
</g>
<g font-family="'DejaVu Sans','Liberation Sans',sans-serif">
<text transform="translate(223.80,543.50) scale(1.420,1)" font-size="8.8" text-anchor="middle" font-weight="bold" fill="#000" stroke="#000" stroke-width="0.12">Epoch</text>
</g>
</svg>
</body></html>
